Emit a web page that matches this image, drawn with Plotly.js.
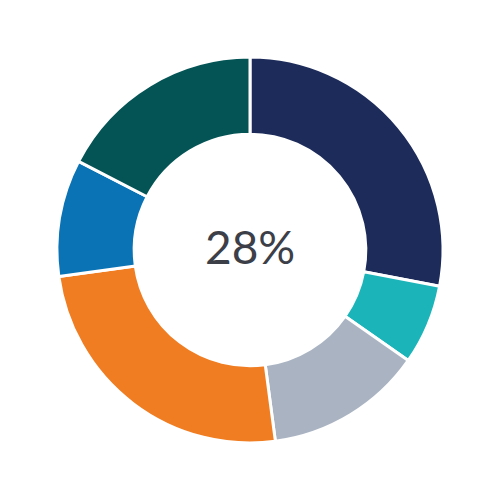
<!DOCTYPE html>
<html>
<head>
<meta charset="utf-8">
<script src="https://cdn.plot.ly/plotly-3.0.1.min.js"></script>
<style>
  html, body { margin: 0; padding: 0; background: #fff; }
  #myDiv { width: 500px; height: 500px; }
</style>
</head>
<body>
<div id="myDiv"></div>
<script>
var labels = ["Navy", "Teal", "Gray", "Orange", "Blue", "Green"];
var shares = [28, 6.7, 13.2, 24.9, 9.8, 17.4];
var colors = ["#1c2b5a", "#1bb5b9", "#a9b3c2", "#f07d21", "#0a73b5", "#045456"];
var centerLabel = "28%";

var donut = {
  type: 'pie',
  labels: labels,
  values: shares,
  hole: 0.6,
  sort: false,
  direction: 'clockwise',
  rotation: 0,
  textinfo: 'none',
  hoverinfo: 'skip',
  marker: {
    colors: colors,
    line: { color: '#ffffff', width: 3 }
  },
  domain: { x: [0.114, 0.886], y: [0.114, 0.886] }
};

var layout = {
  width: 500,
  height: 500,
  margin: { l: 0, r: 0, t: 0, b: 0 },
  showlegend: false,
  paper_bgcolor: '#ffffff',
  annotations: [{
    text: centerLabel,
    showarrow: false,
    x: 0.5,
    y: 0.5,
    yshift: 4,
    xref: 'paper',
    yref: 'paper',
    font: { family: 'Lato, sans-serif', size: 46, color: '#3c3f48' }
  }]
};

Plotly.newPlot('myDiv', [donut], layout, { displayModeBar: false, staticPlot: true });
</script>
</body>
</html>
